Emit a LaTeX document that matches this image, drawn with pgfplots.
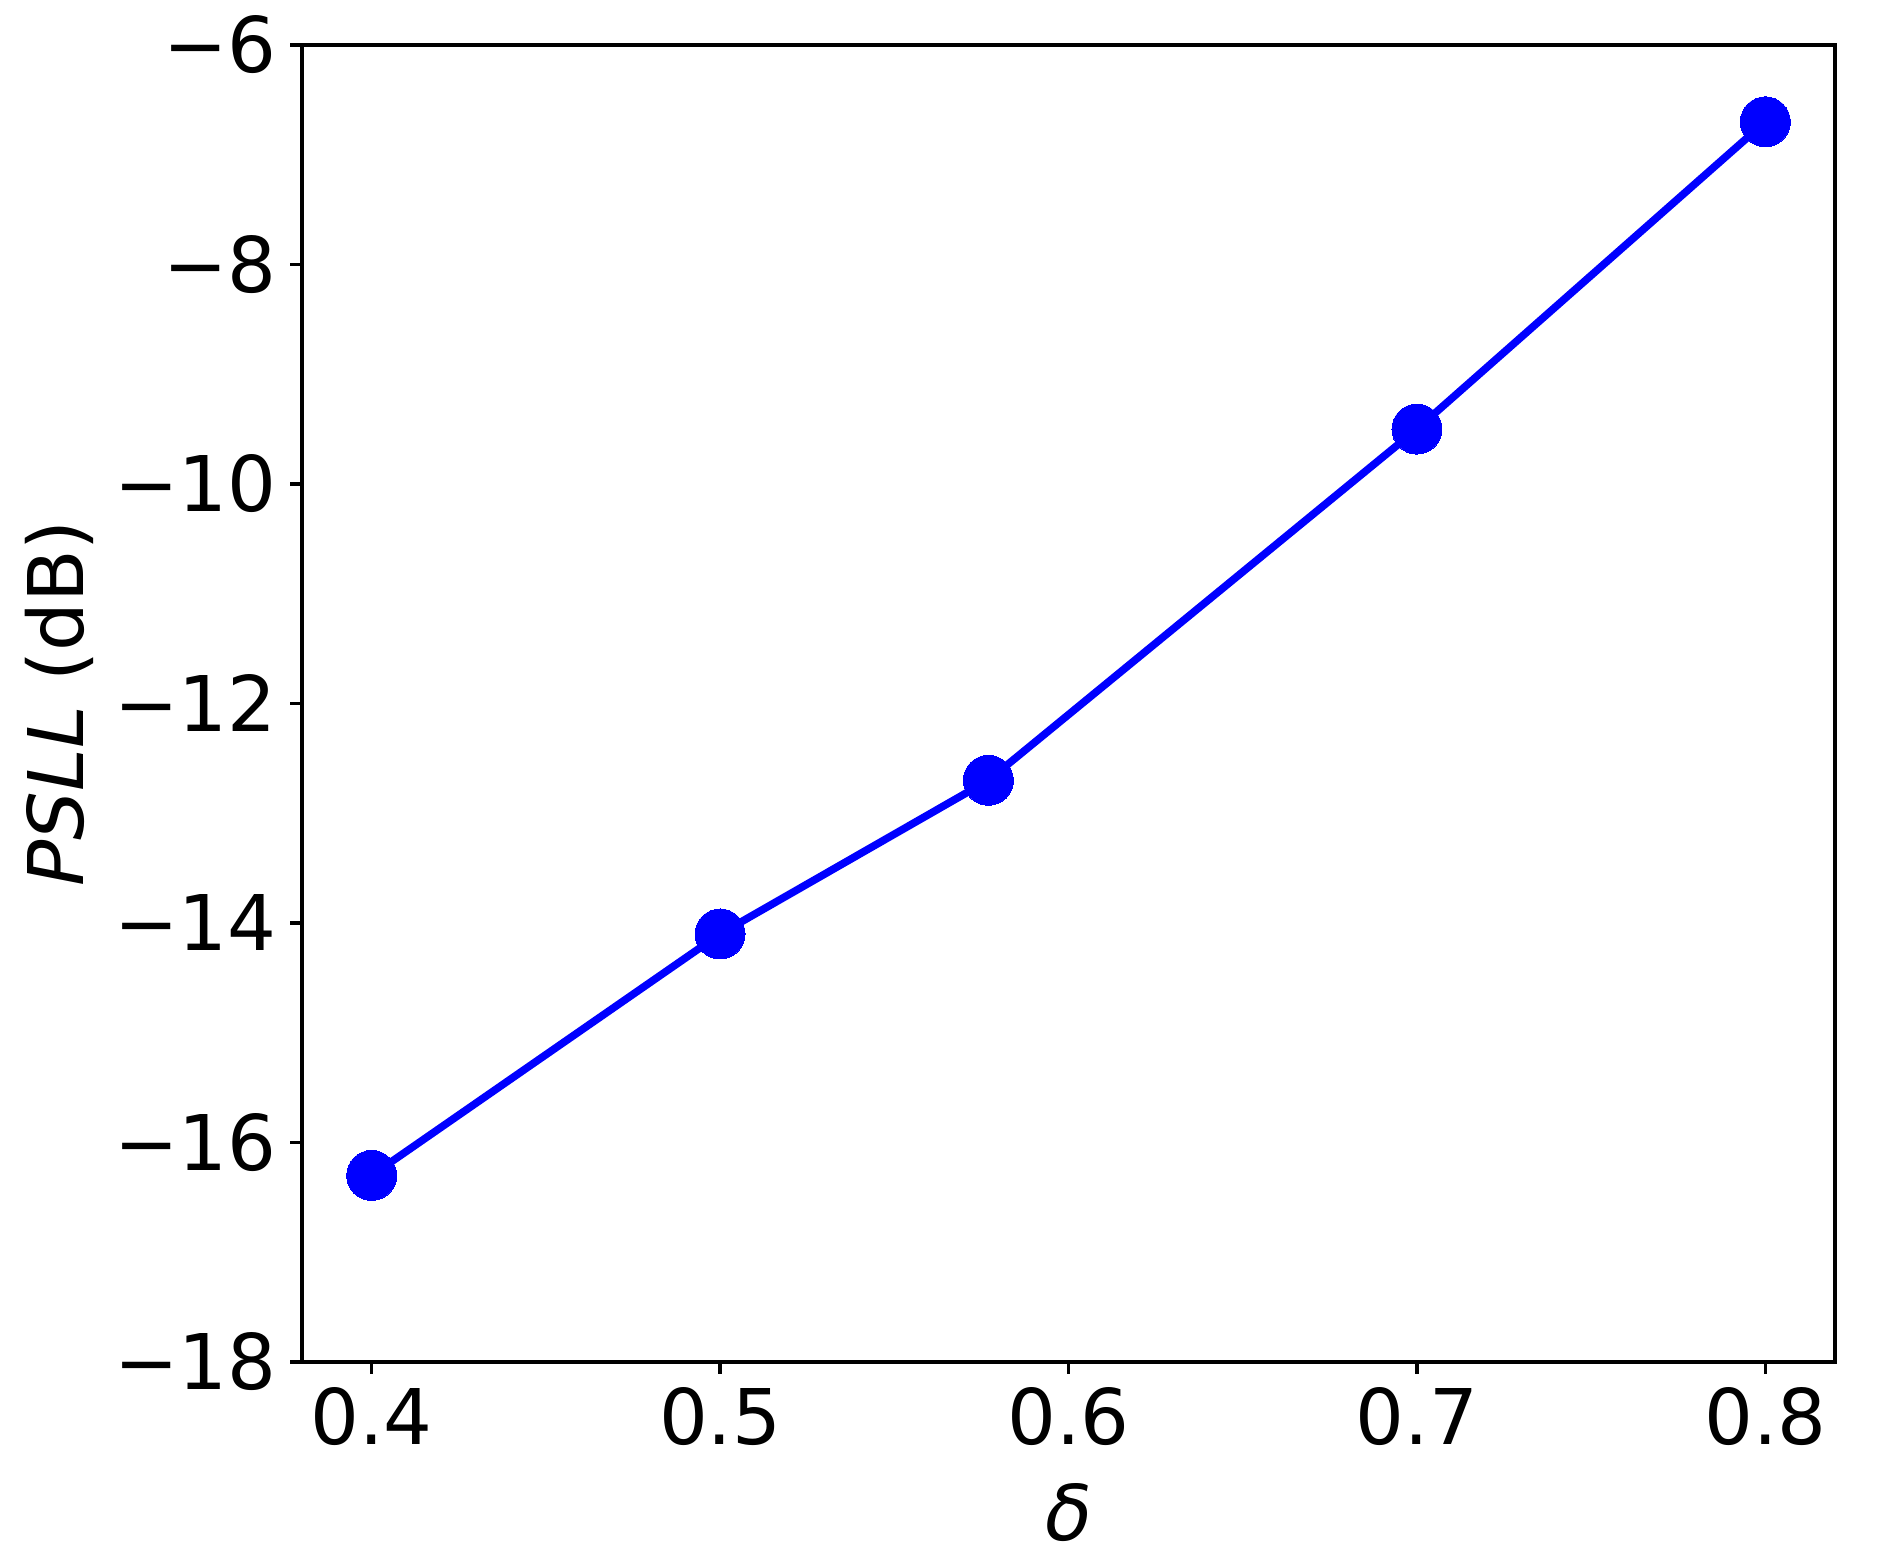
\documentclass[border=0pt]{standalone}
\usepackage{fontspec}
\setmainfont{DejaVu Sans}
\usepackage{pgfplots}
\pgfplotsset{compat=1.18}
\begin{document}
\begin{tikzpicture}
\begin{axis}[
  name=ax,
  scale only axis,
  width=383.25pt, height=329.25pt,
  xmin=0.38, xmax=0.82, ymin=-18, ymax=-6,
  xtick={0.4,0.5,0.6,0.7,0.8},
  xticklabels={0.4,0.5,0.6,0.7,0.8},
  ytick={-18,-16,-14,-12,-10,-8,-6},
  yticklabels={−18,−16,−14,−12,−10,−8,−6},
  tick align=outside,
  tick pos=left,
  major tick length=2.9pt,
  every tick/.style={black, line width=0.9pt},
  axis line style={line width=0.9pt},
  ticklabel style={font=\fontsize{19.2}{23}\selectfont},
  label style={font=\fontsize{19.2}{23}\selectfont},
  xlabel={\textit{δ}},
  ylabel={\textit{PSLL} (dB)},
  xlabel style={at={(axis description cs:0.5,-0.1352)}, anchor=base},
  ylabel style={at={(axis description cs:-0.127,0.5)}, anchor=south},
  /pgf/number format/assume math mode=true,
]
\addplot[color={rgb,255:red,0;green,0;blue,255}, line width=1.9pt,
  mark=*, mark size=6.25pt,
  mark options={solid, fill={rgb,255:red,0;green,0;blue,255}, draw={rgb,255:red,0;green,0;blue,255}, line width=0pt}]
  coordinates {(0.4,-16.3) (0.5,-14.1) (0.577,-12.7) (0.7,-9.5) (0.8,-6.7)};
\end{axis}
\pgfresetboundingbox
\path ([shift={(-75.5pt,-51.5pt)}]ax.south west) rectangle ([shift={(11pt,11.25pt)}]ax.north east);
\end{tikzpicture}
\end{document}
